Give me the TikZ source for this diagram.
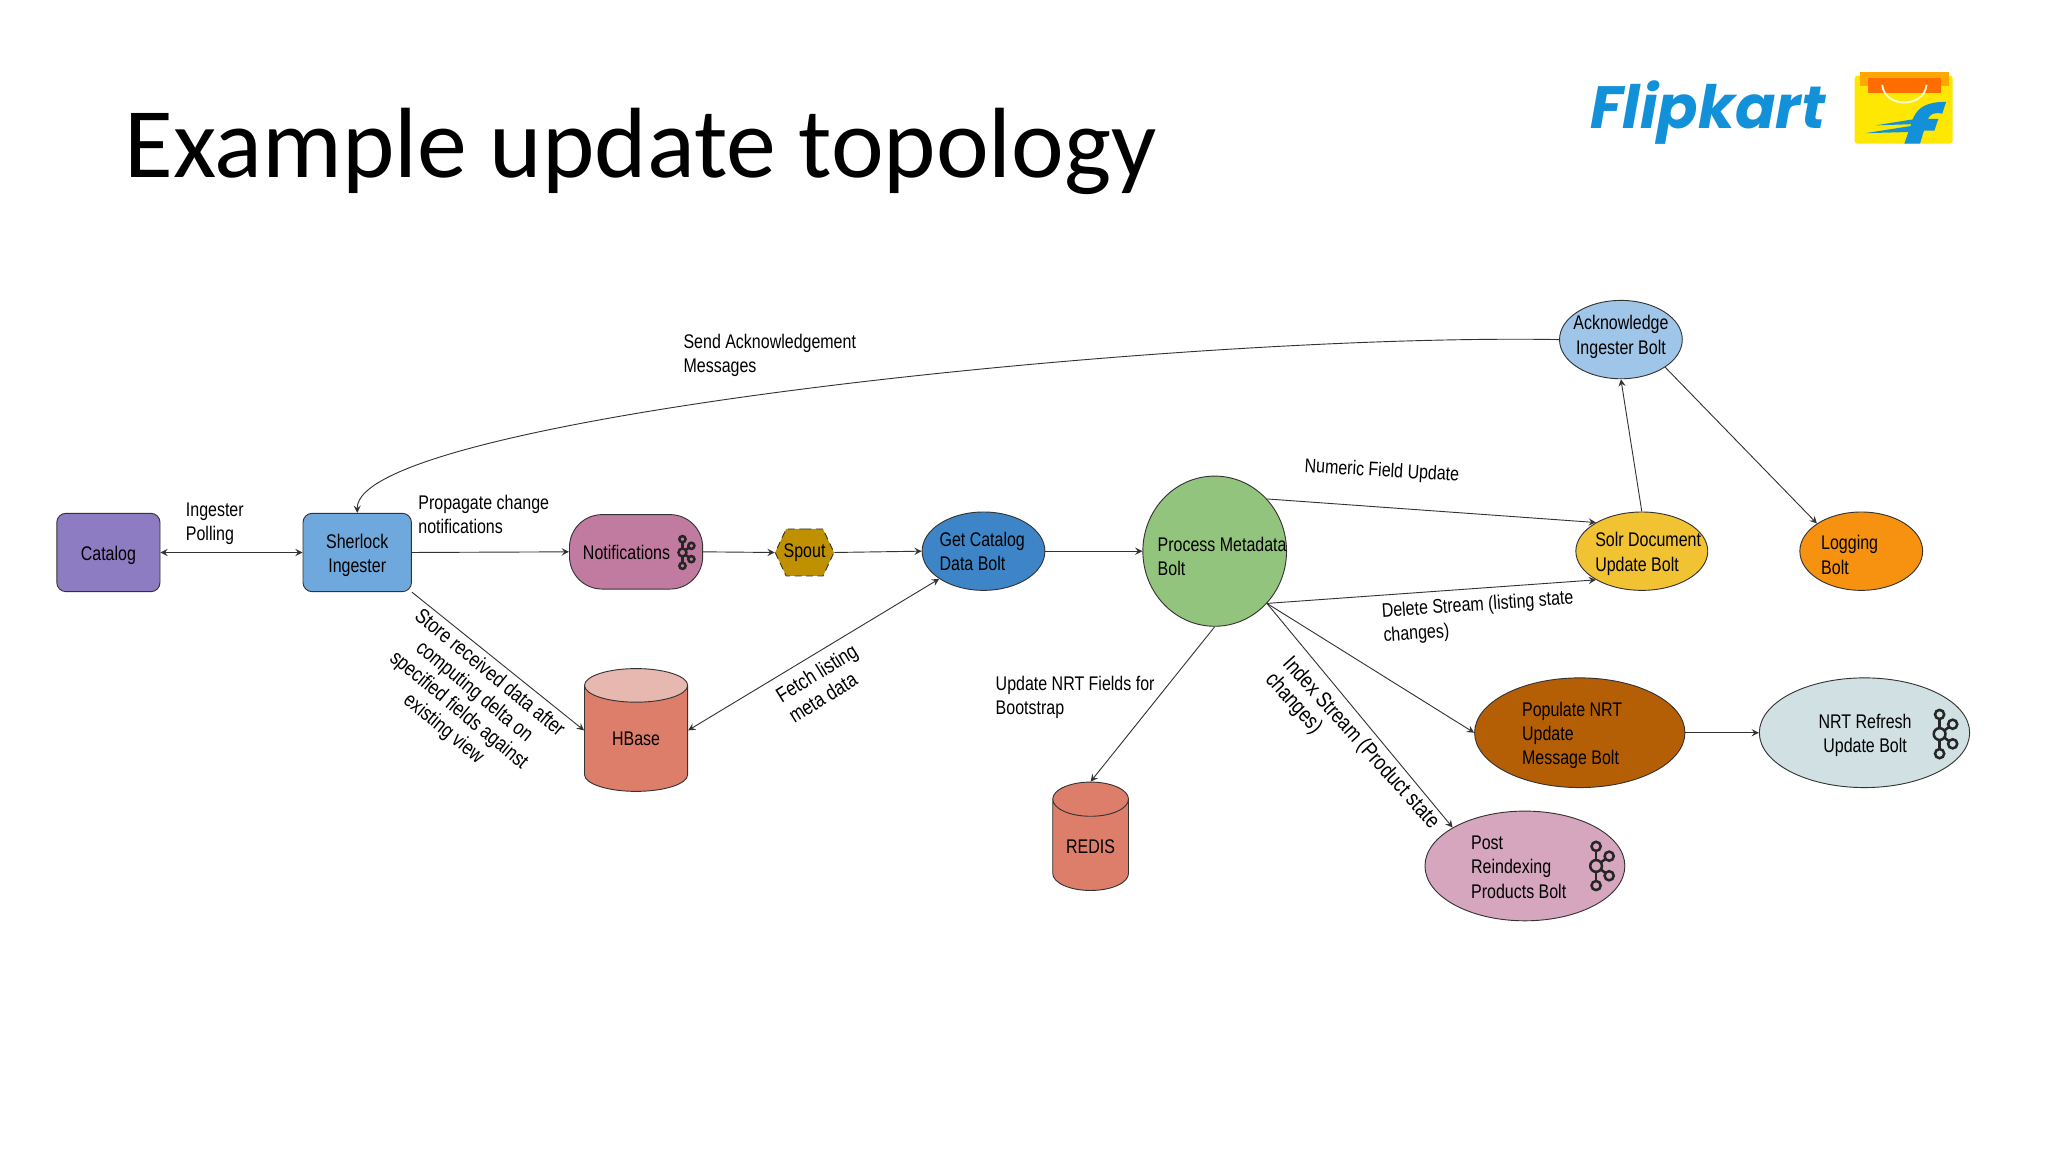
\documentclass[tikz,border=0pt]{standalone}
\usepackage{fontspec}
\setmainfont{Liberation Sans}[FakeStretch=0.81]
\newfontfamily\titlefont{Carlito}
\newfontfamily\logofont{Poppins}
\usetikzlibrary{shapes.geometric,shapes.symbols}
\definecolor{linegray}{HTML}{333333}
\definecolor{flipblue}{HTML}{1291D8}
\tikzset{
    lbl/.style={inner sep=0pt, align=left, font=\fontsize{8.6}{10.6}\selectfont},
    lblbig/.style={inner sep=0pt, align=left, font=\fontsize{9.2}{10.5}\selectfont},
    boxnode/.style={draw=linegray, rounded corners=1.4mm, minimum width=15.8mm, minimum height=12mm, inner sep=0pt},
    bolt/.style={draw=linegray, ellipse, inner sep=0pt},
    store/.style={draw=linegray, cylinder, shape border rotate=90, aspect=0.7, cylinder uses custom fill, inner sep=0pt, font=\fontsize{8.6}{10.6}\selectfont},
    conn/.style={draw=linegray, line width=0.4pt},
    kafkaline/.style={line width=1.1pt, black!85},
    kafka/.pic={
        \draw[kafkaline] (0,0) circle (4.5);
        \draw[kafkaline] (0,-15) circle (3.5);
        \draw[kafkaline] (0,15) circle (3.5);
        \draw[kafkaline] (10,-7.5) circle (3.5);
        \draw[kafkaline] (10,7.5) circle (3.5);
        \draw[kafkaline] (0,-11.5) -- (0,-4.5);
        \draw[kafkaline] (0,4.5) -- (0,11.5);
        \draw[kafkaline] (3.6,-2.7) -- (7.2,-5.4);
        \draw[kafkaline] (3.6,2.7) -- (7.2,5.4);
    }
}
\begin{document}
\begin{tikzpicture}[x=0.2mm, y=-0.2mm, >=stealth]
    \useasboundingbox (0,0) rectangle (1568,882);
    % title and logo
    \node[anchor=base west, inner sep=0pt, font=\titlefont\fontsize{43.5}{43.5}\selectfont] (title) at (95,136) {Example update topology};
    \node[anchor=west, inner sep=0pt, text=flipblue, font=\logofont\fontsize{26}{26}\selectfont\bfseries\itshape] (flipkart) at (1217,86) {Flipkart};
    \fill[yellow!90!orange, rounded corners=0.4mm] (1420,58) rectangle (1495,110);
    \fill[orange!70!yellow] (1424,55) rectangle (1492,66);
    \fill[orange!85!red] (1430,60) rectangle (1486,71);
    \draw[white!85!yellow, line width=0.8pt] (1441,65) .. controls (1443,83) and (1473,83) .. (1475,65);
    \fill[flipblue] (1458,110) -- (1465,90) .. controls (1469,81) and (1477,78) .. (1490,78) -- (1487,87) .. controls (1481,86) and (1478,87) .. (1476,91) -- (1484,91) -- (1481,100) -- (1473,100) -- (1470,110) -- cycle;
    \fill[flipblue] (1428,102) -- (1466,96) -- (1464,101) -- cycle;
    \fill[flipblue] (1436,96) -- (1467,91) -- (1466,95) -- cycle;

    % nodes
    \node[boxnode, fill={rgb,255:red,142;green,124;blue,195}] (catalog) at (83,423) {};
    \node[boxnode, minimum width=16.6mm, fill={rgb,255:red,111;green,168;blue,220}] (sherlock) at (273.5,423) {};
    \node[boxnode, rounded corners=5mm, minimum width=20.4mm, minimum height=11.4mm, fill={rgb,255:red,194;green,123;blue,160}] (notif) at (487,422.5) {};
    \node[draw=linegray, densely dashed, signal, signal to=east and west, signal pointer angle=130, minimum width=9mm, minimum height=7.2mm, inner sep=0pt, fill={rgb,255:red,191;green,144;blue,0}] (spout) at (616,423) {};
    \node[bolt, minimum width=18.8mm, minimum height=12mm, fill={rgb,255:red,61;green,133;blue,198}] (getcat) at (753,422) {};
    \node[bolt, minimum width=22mm, minimum height=23mm, fill={rgb,255:red,147;green,196;blue,125}] (process) at (930,422) {};
    \node[bolt, minimum width=18.8mm, minimum height=12mm, fill={rgb,255:red,159;green,197;blue,232}] (ack) at (1241,260) {};
    \node[bolt, minimum width=20.2mm, minimum height=12mm, fill={rgb,255:red,241;green,194;blue,50}] (solr) at (1257,422) {};
    \node[bolt, minimum width=18.8mm, minimum height=12mm, fill={rgb,255:red,246;green,146;blue,15}] (logging) at (1425,422) {};
    \node[bolt, minimum width=32.2mm, minimum height=16.8mm, fill={rgb,255:red,180;green,95;blue,6}] (populate) at (1209.5,561) {};
    \node[bolt, minimum width=32.2mm, minimum height=16.8mm, fill={rgb,255:red,208;green,224;blue,227}] (nrt) at (1427.5,561) {};
    \node[bolt, minimum width=30.6mm, minimum height=16.8mm, fill={rgb,255:red,213;green,166;blue,189}] (post) at (1167.5,663) {};
    \node[store, minimum width=15.8mm, minimum height=18.8mm, cylinder body fill={rgb,255:red,221;green,126;blue,107}, cylinder end fill={rgb,255:red,230;green,184;blue,175}] (hbase) at (487,565.5) {\phantom{HBase}};
    \node[store, minimum width=11.6mm, minimum height=16.6mm, cylinder body fill={rgb,255:red,221;green,126;blue,107}, cylinder end fill={rgb,255:red,221;green,126;blue,107}] (redis) at (835,647) {\phantom{REDIS}};

    % texts of the shapes
    \node[lbl, align=center] (catalogtxt) at (83,425) {Catalog};
    \node[lbl, align=center] (sherlocktxt) at (273.5,425) {Sherlock\\Ingester};
    \node[lbl, anchor=west] (notiftxt) at (446,423) {Notifications};
    \node[lbl, align=center] (spouttxt) at (616,423) {Spout};
    \node[lbl, anchor=west] (getcattxt) at (719,422) {Get Catalog\\Data Bolt};
    \node[lbl, anchor=west] (processtxt) at (886,426) {Process Metadata\\Bolt};
    \node[lbl, align=center] (acktxt) at (1241,258) {Acknowledge\\Ingester Bolt};
    \node[lbl, anchor=west] (solrtxt) at (1221,424) {Solr Document\\Update Bolt};
    \node[lbl, anchor=west] (loggingtxt) at (1394,425) {Logging\\Bolt};
    \node[lbl, anchor=west] (populatetxt) at (1165,563) {Populate NRT\\Update\\Message Bolt};
    \node[lbl, anchor=west, align=center] (nrttxt) at (1392,563) {NRT Refresh\\Update Bolt};
    \node[lbl, anchor=west] (posttxt) at (1126,664) {Post\\Reindexing\\Products Bolt};
    \node[lbl, align=center] (hbasetxt) at (487,566) {HBase};
    \node[lbl, align=center] (redistxt) at (835,648) {REDIS};
    \pic[scale=0.68] at (522.5,423) {kafka};
    \pic at (1485,562) {kafka};
    \pic at (1222,663) {kafka};

    % connectors
    \draw[conn, <->] (catalog.east) -- (sherlock.west);
    \draw[conn, ->] (sherlock.east) -- (notif.west);
    \draw[conn, ->] (notif.east) -- (spout.west);
    \draw[conn, ->] (spout.east) -- (getcat.west);
    \draw[conn, ->] (getcat.east) -- (process.west);
    \draw[conn, ->] (sherlock.south east) -- (hbase.171);
    \draw[conn, <->] (hbase.9) -- (getcat.212);
    \draw[conn, ->] (process.45) -- (solr.148);
    \draw[conn, ->] (process.-45) -- (solr.212);
    \draw[conn, ->] (process.-45) -- (populate.west);
    \draw[conn, ->] (process.-45) -- (post.152);
    \draw[conn, ->] (process.south) -- (redis.north);
    \draw[conn, ->] (solr.north) -- (ack.south);
    \draw[conn, ->] (ack.-32) -- (logging.148);
    \draw[conn, ->] (populate.east) -- (nrt.west);
    \draw[conn, ->] (ack.west) .. controls (900,255) and (273,320) .. (sherlock.north);

    % connector labels
    \node[lbl, anchor=west] (polling) at (142,401) {Ingester\\Polling};
    \node[lbl, anchor=west] (propagate) at (320,394) {Propagate change\\notifications};
    \node[lbl, anchor=west] (sendack) at (523,272) {Send Acknowledgement\\Messages};
    \node[lbl, rotate=-3.4] (numeric) at (1058,361) {Numeric Field Update};
    \node[lbl, rotate=4] (deletes) at (1132,473) {Delete Stream (listing state\\changes)};
    \node[lbl, anchor=west] (updnrt) at (762,534) {Update NRT Fields for\\Bootstrap};
    \node[lblbig, rotate=32] (fetch) at (630,523) {Fetch listing\\meta data};
    \node[lblbig, align=center, rotate=-39.6] (storedata) at (357,537) {Store received data after\\computing delta on\\specified fields against\\existing view};
    \node[lblbig, font=\fontsize{9.6}{10.2}\selectfont, rotate=-48] (indexs) at (1035,575) {Index Stream (Product state\\changes)};
\end{tikzpicture}
\end{document}
